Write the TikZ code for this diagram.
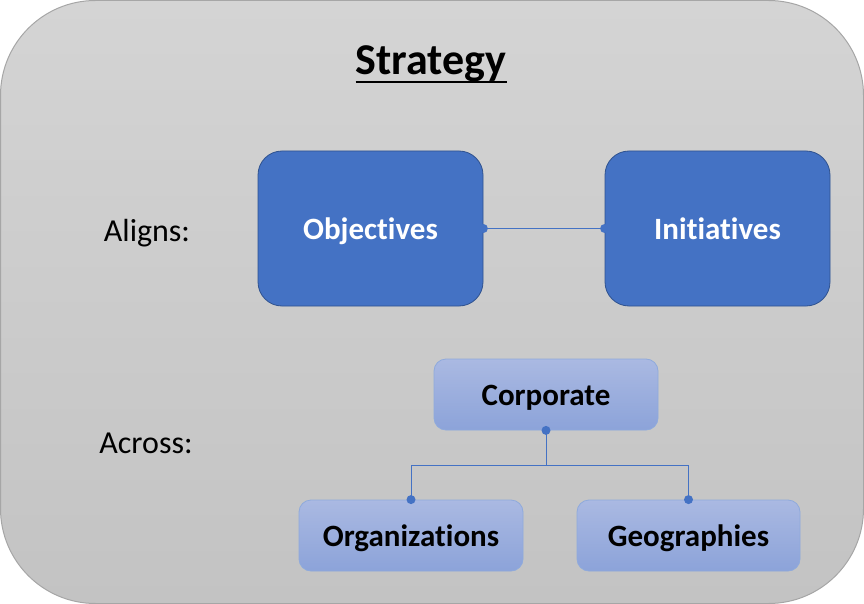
\documentclass[tikz,border=0pt]{standalone}
\usepackage{fontspec}
\setmainfont{Carlito}[Ligatures={NoCommon,TeX}]
\begin{document}
\begin{tikzpicture}[x=1pt,y=-1pt,
  bigbox/.style={draw=darkblue,line width=0.8pt,fill=midblue,rounded corners=24pt,inner sep=0pt,
    text=white,font=\fontsize{31}{36}\selectfont\bfseries,text height=22pt,text depth=0pt},
  smallbox/.style={draw=lightedge,line width=0.8pt,top color=lighttop,bottom color=lightbot,rounded corners=12pt,inner sep=0pt,
    text=black,font=\fontsize{31}{36}\selectfont\bfseries,text height=22pt,text depth=0pt},
  conn/.style={draw=midblue,line width=0.7pt},
  dot/.style={circle,fill=midblue,inner sep=0pt,minimum size=9pt},
  lbl/.style={font=\fontsize{32}{38}\selectfont,text=black}]
\definecolor{midblue}{HTML}{4472C4}
\definecolor{darkblue}{HTML}{2F528F}
\definecolor{lightedge}{HTML}{8FAADC}
\definecolor{lighttop}{HTML}{AAB9E2}
\definecolor{lightbot}{HTML}{8CA3D9}
\definecolor{bgtop}{HTML}{D4D4D4}
\definecolor{bgbot}{HTML}{C3C3C3}
\definecolor{bgedge}{HTML}{A6A6A6}
\useasboundingbox (0,0) rectangle (864,604);
\path[draw=bgedge,line width=1pt,top color=bgtop,bottom color=bgbot,rounded corners=95pt] (0.5,0.5) rectangle (863.5,603.5);
\node[font=\fontsize{44}{50}\selectfont\bfseries,inner sep=0pt,anchor=base] (title) at (431,75) {Strategy};
\draw[line width=2.6pt] ([yshift=-7pt]title.base west) -- ([yshift=-7pt]title.base east);
\node[lbl] (aligns) at (147,233) {Aligns:};
\node[lbl] (across) at (146,443) {Across:};
\node[bigbox,minimum width=225pt,minimum height=155pt] (obj) at (370.5,228.5) {Objectives};
\node[bigbox,minimum width=225pt,minimum height=155pt] (ini) at (717.5,228.5) {Initiatives};
\node[smallbox,minimum width=224pt,minimum height=71pt] (corp) at (546,394.5) {Corporate};
\node[smallbox,minimum width=224pt,minimum height=71pt] (org) at (411,535.5) {Organizations};
\node[smallbox,minimum width=223pt,minimum height=71pt] (geo) at (688.5,535.5) {Geographies};
\coordinate (mid) at (546,465);
\draw[conn] (obj.east) -- (ini.west);
\node[dot] at (obj.east) {};
\node[dot] at (ini.west) {};
\draw[conn] (corp.south) -- (mid) -| (org.north);
\draw[conn] (mid) -| (geo.north);
\node[dot] at (corp.south) {};
\node[dot] at (org.north) {};
\node[dot] at (geo.north) {};
\end{tikzpicture}
\end{document}
